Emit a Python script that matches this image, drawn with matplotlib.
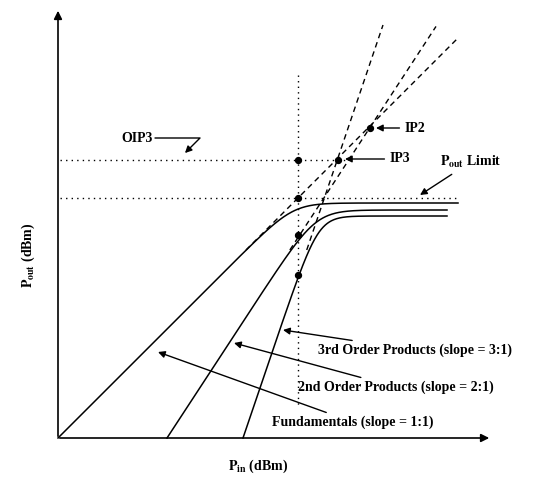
import numpy as np
import matplotlib
matplotlib.use("Agg")
import matplotlib.pyplot as plt

plt.rcParams['mathtext.fontset'] = 'stix'
plt.rcParams['font.family'] = ['Liberation Serif', 'DejaVu Serif']

# Schematic in canvas units (x right, y down)
origin = (58, 438)
fund_start, fund_slope, fund_limit = 58, 1.0, 203
ord2_start, ord2_slope, ord2_limit = 167, 1.53, 210
ord3_start, ord3_slope, ord3_limit = 243, 2.95, 216
sat_softness = [12, 18, 25]
curve_end = [458, 447, 447]
dash_top = [458, 436, 383]
pts_x = [298, 338, 370, 298, 298, 298]
pts_y = [160, 160, 128, 198, 235, 275]

fig = plt.figure(figsize=(5.38, 4.84), dpi=100)
ax = fig.add_axes([0, 0, 1, 1])
ax.set_xlim(0, 538); ax.set_ylim(484, 0); ax.axis('off')
fs = dict(fontsize=10, fontweight='bold', family='Liberation Serif')

def lin(x0, s, x):
    return origin[1] - s * (x - x0)

ax.annotate('', xy=(492, 438), xytext=(57, 438), arrowprops=dict(arrowstyle='-|>', color='k', lw=1.2, mutation_scale=12))
ax.annotate('', xy=(58, 8), xytext=(58, 439), arrowprops=dict(arrowstyle='-|>', color='k', lw=1.2, mutation_scale=12))

for (x0, s, L), soft, xe, xt in zip([(fund_start, fund_slope, fund_limit), (ord2_start, ord2_slope, ord2_limit), (ord3_start, ord3_slope, ord3_limit)], sat_softness, curve_end, dash_top):
    x = np.linspace(x0, xe, 400)
    yl = lin(x0, s, x)
    y = L + soft * np.log1p(np.exp((yl - L) / soft))
    ax.plot(x, y, color='k', lw=1.1)
    xd = np.linspace(x0 + (origin[1] - 250) / s, xt, 50)
    ax.plot(xd, lin(x0, s, xd), color='k', lw=1.0, ls=(0, (4, 3)))

ax.plot([298, 298], [75, 408], color='k', lw=1, ls=(0, (1, 3)))
ax.plot([60, 345], [160, 160], color='k', lw=1, ls=(0, (1, 3)))
ax.plot([60, 460], [198, 198], color='k', lw=1, ls=(0, (1, 3)))
ax.scatter(pts_x, pts_y, s=18, color='k', zorder=5)

ap = dict(arrowstyle='-|>', color='k', lw=1, mutation_scale=10)
ax.annotate('IP2', xy=(376, 128), xytext=(405, 128), va='center', arrowprops=dict(ap, shrinkB=0), **fs)
ax.annotate('IP3', xy=(345, 159), xytext=(390, 159), va='center', arrowprops=dict(ap, shrinkB=0), **fs)
ax.text(121, 138, 'OIP3', va='center', **fs)
ax.annotate('', xy=(183, 155), xytext=(155, 138), arrowprops=dict(arrowstyle='-|>', color='k', lw=1, mutation_scale=10, shrinkA=0, connectionstyle='angle,angleA=0,angleB=45,rad=0'))
ax.annotate(r'$\mathbf{P_{out}}$ Limit', xy=(420, 195), xytext=(440, 162), va='center', arrowprops=dict(ap, shrinkB=0), **fs)
ax.annotate('3rd Order Products (slope = 3:1)', xy=(283, 330), xytext=(318, 350), va='center', arrowprops=dict(ap, shrinkB=0, shrinkA=0), **fs)
ax.annotate('2nd Order Products (slope = 2:1)', xy=(234, 343), xytext=(298, 387), va='center', arrowprops=dict(ap, shrinkB=0, shrinkA=0), **fs)
ax.annotate('Fundamentals (slope = 1:1)', xy=(158, 352), xytext=(272, 422), va='center', arrowprops=dict(ap, shrinkB=0, shrinkA=0), **fs)
ax.text(258, 466, r'$\mathbf{P_{in}}$ (dBm)', ha='center', va='center', **fs)
ax.text(28, 255, r'$\mathbf{P_{out}}$ (dBm)', ha='center', va='center', rotation=90, **fs)
fig.savefig('out.png', dpi=100)
